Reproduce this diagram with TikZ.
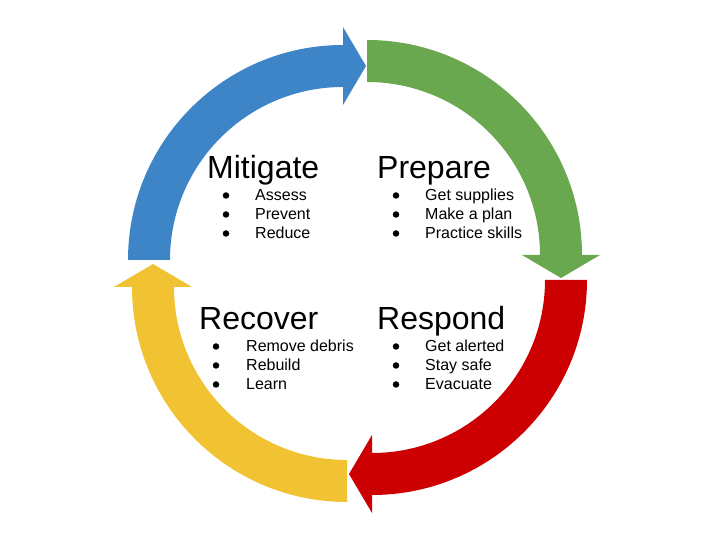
\documentclass[tikz,border=0pt]{standalone}
\usepackage{fontspec}
\setmainfont{Liberation Sans}
\definecolor{mitblue}{HTML}{3D85C6}
\definecolor{prepgreen}{HTML}{6AA84F}
\definecolor{respred}{HTML}{CC0000}
\definecolor{recyellow}{HTML}{F1C232}
\tikzset{
  phase/.style={font=\fontsize{32}{36}\selectfont, anchor=base west, inner sep=0pt},
  item/.style={font=\fontsize{16}{19}\selectfont, anchor=base west, inner sep=0pt},
  dot/.style={circle, fill=black, inner sep=0pt, minimum size=6.5pt},
}
% one quarter of the cycle, drawn as for the top-right one and then turned
\newcommand{\cyclepart}[4]{%
  \fill[#1, shift={(#2,#3)}, rotate=#4]
    (0,215) arc[start angle=90, end angle=0, radius=215]
    -- (233,0) -- (194,-23) -- (155,0) -- (173,0)
    arc[start angle=0, end angle=90, radius=173] -- cycle;}
\begin{document}
\begin{tikzpicture}[x=1pt, y=1pt]
\useasboundingbox (0,0) rectangle (720,540);
\cyclepart{prepgreen}{367}{285}{0}
\cyclepart{respred}{372}{260}{-90}
\cyclepart{recyellow}{347}{253}{-180}
\cyclepart{mitblue}{343}{280}{-270}
% phases
\node[phase] (mitigate) at (207,361) {Mitigate};
\node[phase] (prepare) at (377,361) {Prepare};
\node[phase] (recover) at (199,210) {Recover};
\node[phase] (respond) at (377,210) {Respond};
% bullet lists
\foreach \txt [count=\i] in {Assess, Prevent, Reduce} {
  \node[dot] (mit-b\i) at (226,363.5-19*\i) {};
  \node[item] (mit-\i) at (255,358-19*\i) {\txt};
}
\foreach \txt [count=\i] in {Get supplies, Make a plan, Practice skills} {
  \node[dot] (prep-b\i) at (396,363.5-19*\i) {};
  \node[item] (prep-\i) at (425,358-19*\i) {\txt};
}
\foreach \txt [count=\i] in {Remove debris, Rebuild, Learn} {
  \node[dot] (rec-b\i) at (216,212.5-19*\i) {};
  \node[item] (rec-\i) at (246,207-19*\i) {\txt};
}
\foreach \txt [count=\i] in {Get alerted, Stay safe, Evacuate} {
  \node[dot] (resp-b\i) at (396,212.5-19*\i) {};
  \node[item] (resp-\i) at (425,207-19*\i) {\txt};
}
\end{tikzpicture}
\end{document}
